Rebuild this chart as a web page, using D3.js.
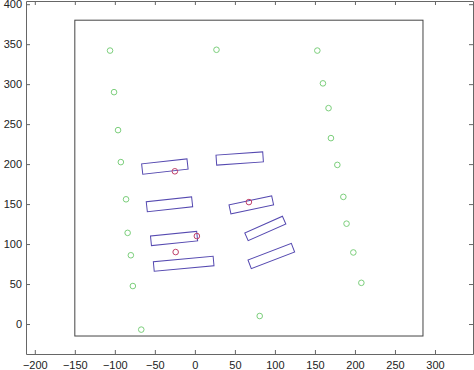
<!DOCTYPE html>
<html>
<head>
<meta charset="utf-8">
<script src="https://cdn.jsdelivr.net/npm/d3@7"></script>
<style>
  body { margin: 0; background: #fff; }
  svg { display: block; font-family: "Liberation Sans", Arial, sans-serif; }
</style>
</head>
<body>
<svg width="474" height="370"></svg>
<script>
// tick labels
const xTicks = [-200, -150, -100, -50, 0, 50, 100, 150, 200, 250, 300]
const yTicks = [0, 50, 100, 150, 200, 250, 300, 350, 400]

// outer boundary [xmin, xmax, ymin, ymax]
const boundary = [-150, 285, -15, 380]

// green landmarks
const landmarkX = [-106, -101, -96, -92.5, -86, -84, -80, -77.5, -67, 27, 81,
  153, 160, 167, 170, 178, 185.5, 189.5, 198, 208]
const landmarkY = [342, 290, 242.5, 202.5, 156, 114, 86, 47.5, -7, 343, 10,
  342, 301, 270, 232.5, 199, 159, 125.5, 89.5, 51.5]

// red points
const pointX = [-25, 67.5, 2.5, -24]
const pointY = [191, 152.5, 110, 90]

// boxes: centre, length, width, angle (deg)
const boxCx = [-37.5, 56, -31.75, 70.5, -26, 88, -14, 95.5]
const boxCy = [197, 207, 149.75, 149, 107, 119.5, 75.4, 85]
const boxLen = [57, 58.5, 57, 54.5, 58, 51.5, 75, 58]
const boxWid = [13, 12.5, 12.5, 11.5, 12, 10.5, 12, 11.5]
const boxAng = [6.3, 4, 6.2, 12, 5.8, 24, 5.3, 21]

const svg = d3.select('svg')
const margin = { top: 1, right: 1, bottom: 16, left: 26 }
const width = 474 - margin.left - margin.right
const height = 370 - margin.top - margin.bottom

const x = d3.scaleLinear().domain([-211, 347.5]).range([margin.left, margin.left + width])
const y = d3.scaleLinear().domain([-37.5, 404]).range([margin.top + height, margin.top])

// axes, ticks pointing inward
const axisColor = '#666'
function styleAxis(g) {
  g.select('.domain').attr('stroke', axisColor)
  g.selectAll('.tick line').attr('stroke', axisColor)
  g.selectAll('.tick text').attr('fill', '#222').attr('font-size', 11)
}

svg.append('g')
    .attr('transform', `translate(0, ${margin.top + height})`)
    .call(d3.axisBottom(x).tickValues(xTicks).tickSize(-4).tickSizeOuter(0).tickPadding(7))
    .call(styleAxis)

svg.append('g')
    .attr('transform', `translate(0, ${margin.top})`)
    .call(d3.axisTop(x).tickValues(xTicks).tickSize(-4).tickSizeOuter(0).tickFormat(''))
    .call(styleAxis)

svg.append('g')
    .attr('transform', `translate(${margin.left}, 0)`)
    .call(d3.axisLeft(y).tickValues(yTicks).tickSize(-4).tickSizeOuter(0).tickPadding(4))
    .call(styleAxis)

svg.append('g')
    .attr('transform', `translate(${margin.left + width}, 0)`)
    .call(d3.axisRight(y).tickValues(yTicks).tickSize(-4).tickSizeOuter(0).tickFormat(''))
    .call(styleAxis)

// boundary
svg.append('rect')
    .attr('x', x(boundary[0]))
    .attr('y', y(boundary[3]))
    .attr('width', x(boundary[1]) - x(boundary[0]))
    .attr('height', y(boundary[2]) - y(boundary[3]))
    .attr('fill', 'none')
    .attr('stroke', '#444')
    .attr('stroke-width', 1)

// boxes
const boxes = boxCx.map((cx, i) => ({ cx, cy: boxCy[i], len: boxLen[i], wid: boxWid[i], ang: boxAng[i] }))
const k = x(1) - x(0)
svg.append('g')
  .selectAll('rect')
  .data(boxes)
  .enter().append('rect')
    .attr('x', d => -d.len * k / 2)
    .attr('y', d => -d.wid * k / 2)
    .attr('width', d => d.len * k)
    .attr('height', d => d.wid * k)
    .attr('transform', d => `translate(${x(d.cx)}, ${y(d.cy)}) rotate(${-d.ang})`)
    .attr('fill', 'none')
    .attr('stroke', '#5549b0')
    .attr('stroke-width', 1)

// landmarks
svg.append('g')
  .selectAll('circle')
  .data(landmarkX.map((v, i) => [v, landmarkY[i]]))
  .enter().append('circle')
    .attr('cx', d => x(d[0]))
    .attr('cy', d => y(d[1]))
    .attr('r', 2.8)
    .attr('fill', 'none')
    .attr('stroke', '#7ccf7c')
    .attr('stroke-width', 1)

// red points
svg.append('g')
  .selectAll('circle')
  .data(pointX.map((v, i) => [v, pointY[i]]))
  .enter().append('circle')
    .attr('cx', d => x(d[0]))
    .attr('cy', d => y(d[1]))
    .attr('r', 2.8)
    .attr('fill', 'none')
    .attr('stroke', '#c0406a')
    .attr('stroke-width', 1)
</script>
</body>
</html>
